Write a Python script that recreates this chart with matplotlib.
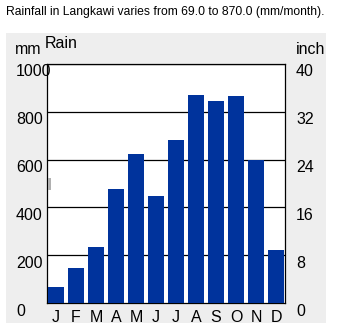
import matplotlib.pyplot as plt
import matplotlib.transforms as mtransforms
from matplotlib.patches import Rectangle

plt.rcParams['font.family'] = ['Liberation Sans', 'DejaVu Sans']

months = ['J', 'F', 'M', 'A', 'M', 'J', 'J', 'A', 'S', 'O', 'N', 'D']
rain_mm = [69, 148, 234, 477, 623, 448, 682, 870, 845, 866, 598, 222]
mm_ticks = [0, 200, 400, 600, 800, 1000]
inch_ticks = [0, 8, 16, 24, 32, 40]
title = 'Rainfall in Langkawi varies from 69.0 to 870.0 (mm/month).'

W, H = 340, 335
fig = plt.figure(figsize=(W / 100, H / 100), dpi=100)
fig.patch.set_facecolor('white')

# grey panel behind the chart
fig.patches.append(Rectangle((6 / W, (H - 323) / H), 320 / W, 290 / H,
                             transform=fig.transFigure, facecolor='#eeeeee',
                             edgecolor='none', zorder=-5))

fig.text(6 / W, (H - 12) / H, title, fontsize=8.7, va='center', ha='left')

ax = fig.add_axes([47 / W, (H - 303) / H, 238 / W, 239 / H])
ax.set_facecolor('white')
x = list(range(len(months)))
ax.bar(x, rain_mm, width=0.8, color='#00339c', zorder=3)
ax.set_xlim(-0.45, 11.45)
ax.set_ylim(0, 1000)
for v in mm_ticks[1:]:
    ax.axhline(v, color='black', lw=0.9, zorder=2)
for s in ax.spines.values():
    s.set_color('black')
    s.set_linewidth(0.9)
ax.set_xticks(x)
ax.set_xticklabels(months, fontsize=11.5)
ax.tick_params(axis='x', length=0, pad=5)
ax.set_yticks([])

# small grey marker on the left axis
fig.patches.append(Rectangle((47.5 / W, (H - 190) / H), 3.5 / W, 12 / H,
                             transform=fig.transFigure, facecolor='#b0b0b0',
                             edgecolor='none', zorder=5))

off = mtransforms.ScaledTranslation(0, -8 / 100, fig.dpi_scale_trans)
tl = mtransforms.blended_transform_factory(fig.transFigure, ax.transData) + off
for v in mm_ticks:
    ax.text(16 / W, v, str(v), transform=tl, fontsize=11.5, ha='left',
            va='center', clip_on=False)
for v, iv in zip(mm_ticks, inch_ticks):
    ax.text(296 / W, v, str(iv), transform=tl, fontsize=11.5, ha='left',
            va='center', clip_on=False)

fig.text(15 / W, (H - 50) / H, 'mm', fontsize=11.5, ha='left', va='center')
fig.text(45 / W, (H - 44) / H, 'Rain', fontsize=11.5, ha='left', va='center')
fig.text(296 / W, (H - 50) / H, 'inch', fontsize=11.5, ha='left', va='center')

fig.savefig('out.png', dpi=100)
